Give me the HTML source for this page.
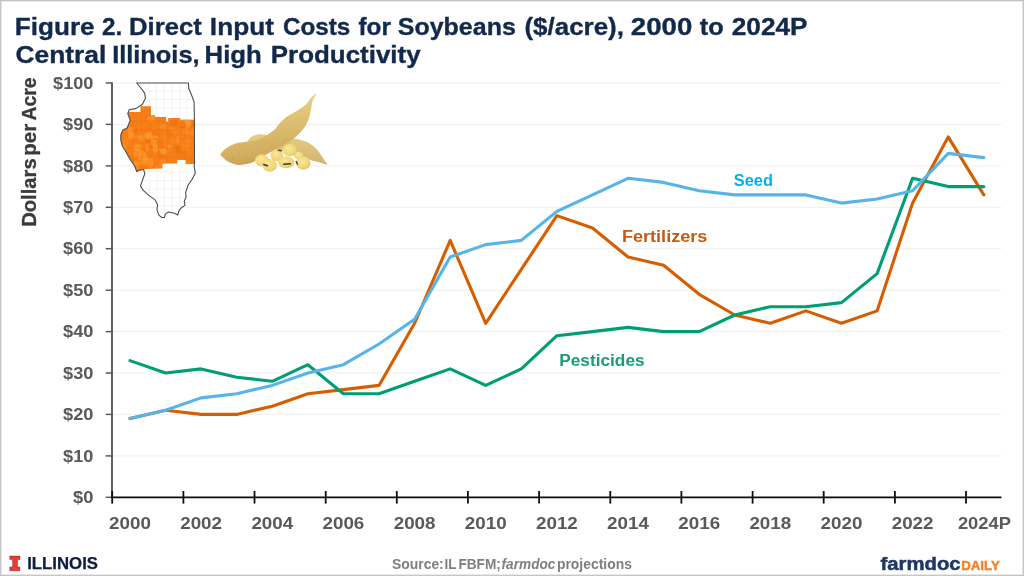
<!DOCTYPE html>
<html><head><meta charset="utf-8"><title>Figure 2</title>
<style>
html,body{margin:0;padding:0;background:#fff;}
body{width:1024px;height:576px;overflow:hidden;font-family:"Liberation Sans",sans-serif;}
svg{display:block;will-change:transform;}
text{font-family:"Liberation Sans",sans-serif;font-weight:bold;}
</style></head><body>
<svg width="1024" height="576" viewBox="0 0 1024 576">
<rect x="0" y="0" width="1024" height="576" fill="#ffffff"/>
<rect x="0.7" y="0.7" width="1022.6" height="574.6" fill="none" stroke="#c6c6c6" stroke-width="1.4"/>

<g stroke="#efefef" stroke-width="1">
<line x1="113" x2="1001.5" y1="455.9" y2="455.9"/>
<line x1="113" x2="1001.5" y1="414.4" y2="414.4"/>
<line x1="113" x2="1001.5" y1="373.0" y2="373.0"/>
<line x1="113" x2="1001.5" y1="331.6" y2="331.6"/>
<line x1="113" x2="1001.5" y1="290.2" y2="290.2"/>
<line x1="113" x2="1001.5" y1="248.7" y2="248.7"/>
<line x1="113" x2="1001.5" y1="207.3" y2="207.3"/>
<line x1="113" x2="1001.5" y1="165.9" y2="165.9"/>
<line x1="113" x2="1001.5" y1="124.4" y2="124.4"/>
<line x1="113" x2="1001.5" y1="83.0" y2="83.0"/>
</g>
<g>
<clipPath id="il"><path d="M136.7,83.0 L188.4,83.0 L188.8,88.5 L191.5,95.0 L194.1,101.9 L194.4,120.0 L194.5,164.0 L194.1,165.8 L195.3,173.1 L192.2,179.2 L188.0,185.3 L185.6,192.6 L186.2,196.8 L184.3,201.1 L185.0,205.4 L181.3,207.8 L178.9,210.8 L177.7,215.1 L174.6,213.3 L168.5,212.0 L165.5,213.9 L164.3,217.5 L161.8,217.5 L158.8,215.1 L157.0,209.6 L157.6,204.7 L155.1,199.9 L149.1,195.6 L143.0,190.1 L140.5,185.9 L142.4,180.4 L144.8,173.7 L143.6,169.5 L139.3,170.1 L136.9,171.7 L134.5,165.8 L129.6,158.5 L125.5,151.0 L122.3,146.0 L120.8,140.0 L120.8,135.0 L122.9,129.9 L127.2,128.0 L130.2,120.1 L127.8,113.5 L129.0,109.8 L135.7,108.6 L142.4,104.3 L145.4,98.2 L144.8,93.4 L141.2,88.5 Z"/></clipPath>
<clipPath id="ilo"><path d="M110.0,112.0 L140.5,112.0 L140.5,106.2 L150.9,106.2 L150.9,115.3 L155.1,115.3 L155.1,117.1 L166.1,117.1 L166.1,121.4 L168.2,121.4 L168.2,118.0 L180.1,118.0 L180.1,119.8 L200.0,119.8 L200.0,164.0 L185.6,164.0 L185.6,160.0 L177.3,160.0 L177.3,163.6 L162.4,163.6 L162.4,168.2 L143.6,169.3 L138.0,174.0 L110.0,174.0 Z"/></clipPath>
<path d="M136.7,83.0 L188.4,83.0 L188.8,88.5 L191.5,95.0 L194.1,101.9 L194.4,120.0 L194.5,164.0 L194.1,165.8 L195.3,173.1 L192.2,179.2 L188.0,185.3 L185.6,192.6 L186.2,196.8 L184.3,201.1 L185.0,205.4 L181.3,207.8 L178.9,210.8 L177.7,215.1 L174.6,213.3 L168.5,212.0 L165.5,213.9 L164.3,217.5 L161.8,217.5 L158.8,215.1 L157.0,209.6 L157.6,204.7 L155.1,199.9 L149.1,195.6 L143.0,190.1 L140.5,185.9 L142.4,180.4 L144.8,173.7 L143.6,169.5 L139.3,170.1 L136.9,171.7 L134.5,165.8 L129.6,158.5 L125.5,151.0 L122.3,146.0 L120.8,140.0 L120.8,135.0 L122.9,129.9 L127.2,128.0 L130.2,120.1 L127.8,113.5 L129.0,109.8 L135.7,108.6 L142.4,104.3 L145.4,98.2 L144.8,93.4 L141.2,88.5 Z" fill="#ffffff"/>
<g clip-path="url(#il)">
<g stroke="#efebeb" stroke-width="0.6" fill="none">
<path d="M149.0,83 V121"/>
<path d="M156.5,83 V121"/>
<path d="M164.0,83 V121"/>
<path d="M172.0,83 V121"/>
<path d="M180.0,83 V121"/>
<path d="M187.0,83 V121"/>
<path d="M136,91.0 H196"/>
<path d="M136,99.5 H196"/>
<path d="M136,108.0 H196"/>
<path d="M149.5,160 V218"/>
<path d="M157.0,160 V218"/>
<path d="M164.5,160 V218"/>
<path d="M172.0,160 V218"/>
<path d="M179.5,160 V218"/>
<path d="M187.0,160 V218"/>
<path d="M136,172.0 H196"/>
<path d="M136,180.5 H196"/>
<path d="M136,189.0 H196"/>
<path d="M136,197.5 H196"/>
<path d="M136,206.0 H196"/>
</g>
<g clip-path="url(#ilo)">
<rect x="110" y="100" width="95" height="80" fill="#f67e16"/>
<ellipse cx="154.5" cy="142.9" rx="4.0" ry="3.3" fill="#ffa23a" opacity="0.6"/>
<ellipse cx="184.3" cy="118.5" rx="3.8" ry="3.3" fill="#ffa23a" opacity="0.6"/>
<ellipse cx="179.7" cy="112.2" rx="2.8" ry="2.4" fill="#ff9c30" opacity="0.6"/>
<ellipse cx="186.9" cy="147.9" rx="3.4" ry="3.2" fill="#fb8a20" opacity="0.6"/>
<ellipse cx="169.4" cy="146.6" rx="2.5" ry="2.2" fill="#ffa23a" opacity="0.6"/>
<ellipse cx="125.7" cy="108.4" rx="4.0" ry="3.6" fill="#ff9c30" opacity="0.6"/>
<ellipse cx="155.3" cy="135.1" rx="3.9" ry="3.4" fill="#f27410" opacity="0.6"/>
<ellipse cx="142.8" cy="106.3" rx="2.4" ry="3.8" fill="#fb8a20" opacity="0.6"/>
<ellipse cx="194.8" cy="171.7" rx="3.9" ry="3.9" fill="#ef6d08" opacity="0.6"/>
<ellipse cx="177.1" cy="139.9" rx="2.3" ry="3.6" fill="#ff9a2e" opacity="0.6"/>
<ellipse cx="150.6" cy="161.9" rx="3.0" ry="4.5" fill="#ff9c30" opacity="0.6"/>
<ellipse cx="171.7" cy="120.1" rx="4.1" ry="2.3" fill="#fb8a20" opacity="0.6"/>
<ellipse cx="193.5" cy="132.2" rx="2.3" ry="3.7" fill="#ff9c30" opacity="0.6"/>
<ellipse cx="170.9" cy="128.2" rx="2.8" ry="2.2" fill="#fb8a20" opacity="0.6"/>
<ellipse cx="177.1" cy="113.8" rx="2.7" ry="2.4" fill="#ff9a2e" opacity="0.6"/>
<ellipse cx="155.4" cy="138.1" rx="3.6" ry="2.7" fill="#ffa23a" opacity="0.6"/>
<ellipse cx="135.1" cy="154.3" rx="2.5" ry="3.7" fill="#ff9a2e" opacity="0.6"/>
<ellipse cx="150.2" cy="171.3" rx="2.2" ry="4.3" fill="#ff9c30" opacity="0.6"/>
<ellipse cx="164.9" cy="171.9" rx="2.2" ry="2.6" fill="#ff9c30" opacity="0.6"/>
<ellipse cx="165.5" cy="144.1" rx="2.3" ry="2.6" fill="#fb8a20" opacity="0.6"/>
<ellipse cx="140.1" cy="157.0" rx="2.9" ry="2.9" fill="#ff9a2e" opacity="0.6"/>
<ellipse cx="126.5" cy="119.8" rx="3.5" ry="2.2" fill="#ef6d08" opacity="0.6"/>
<ellipse cx="148.5" cy="135.9" rx="4.1" ry="3.4" fill="#ffa23a" opacity="0.6"/>
<ellipse cx="131.0" cy="131.5" rx="3.5" ry="2.9" fill="#ff9326" opacity="0.6"/>
<ellipse cx="181.5" cy="122.5" rx="2.6" ry="4.0" fill="#ffa23a" opacity="0.6"/>
<ellipse cx="135.5" cy="168.7" rx="4.0" ry="3.6" fill="#fb8a20" opacity="0.6"/>
<ellipse cx="124.5" cy="113.2" rx="3.2" ry="2.8" fill="#f27410" opacity="0.6"/>
<ellipse cx="173.1" cy="123.0" rx="3.8" ry="3.6" fill="#ef6d08" opacity="0.6"/>
<ellipse cx="159.5" cy="167.3" rx="4.2" ry="2.5" fill="#fb8a20" opacity="0.6"/>
<ellipse cx="162.4" cy="162.3" rx="3.4" ry="2.9" fill="#ff9326" opacity="0.6"/>
<ellipse cx="176.4" cy="110.6" rx="3.0" ry="2.8" fill="#ff9a2e" opacity="0.6"/>
<ellipse cx="134.0" cy="130.3" rx="3.3" ry="2.5" fill="#ef6d08" opacity="0.6"/>
<ellipse cx="131.2" cy="135.7" rx="2.9" ry="4.0" fill="#ffa23a" opacity="0.6"/>
<ellipse cx="164.2" cy="115.3" rx="2.3" ry="2.2" fill="#ef6d08" opacity="0.6"/>
<ellipse cx="172.9" cy="169.5" rx="2.2" ry="3.7" fill="#fb8a20" opacity="0.6"/>
<ellipse cx="126.0" cy="126.5" rx="2.5" ry="2.4" fill="#fb8a20" opacity="0.6"/>
<ellipse cx="161.4" cy="154.6" rx="4.0" ry="4.0" fill="#f27410" opacity="0.6"/>
<ellipse cx="130.6" cy="169.6" rx="2.9" ry="2.4" fill="#fb8a20" opacity="0.6"/>
<ellipse cx="187.7" cy="163.5" rx="3.0" ry="4.1" fill="#ff9c30" opacity="0.6"/>
<ellipse cx="158.0" cy="107.0" rx="3.5" ry="3.1" fill="#ff9a2e" opacity="0.6"/>
<ellipse cx="166.1" cy="111.3" rx="3.5" ry="4.6" fill="#fb8a20" opacity="0.6"/>
<ellipse cx="174.9" cy="131.6" rx="3.7" ry="3.6" fill="#fb8a20" opacity="0.6"/>
<ellipse cx="155.2" cy="141.7" rx="3.2" ry="3.4" fill="#ef6d08" opacity="0.6"/>
<ellipse cx="165.5" cy="137.7" rx="2.7" ry="3.9" fill="#fb8a20" opacity="0.6"/>
<ellipse cx="178.7" cy="149.6" rx="3.2" ry="4.4" fill="#ef6d08" opacity="0.6"/>
<ellipse cx="143.3" cy="150.8" rx="2.6" ry="2.6" fill="#ef6d08" opacity="0.6"/>
<ellipse cx="169.8" cy="135.2" rx="4.0" ry="3.0" fill="#f27410" opacity="0.6"/>
<ellipse cx="139.5" cy="147.9" rx="3.8" ry="4.0" fill="#ff9326" opacity="0.6"/>
<ellipse cx="186.1" cy="131.4" rx="3.4" ry="3.0" fill="#ff9326" opacity="0.6"/>
<ellipse cx="131.0" cy="129.1" rx="4.0" ry="2.3" fill="#ff9a2e" opacity="0.6"/>
<ellipse cx="191.3" cy="124.3" rx="2.5" ry="3.3" fill="#ef6d08" opacity="0.6"/>
<ellipse cx="189.5" cy="160.8" rx="3.0" ry="3.4" fill="#f27410" opacity="0.6"/>
<ellipse cx="144.3" cy="161.4" rx="4.2" ry="3.3" fill="#ff9a2e" opacity="0.6"/>
<ellipse cx="182.3" cy="124.4" rx="3.4" ry="3.8" fill="#ef6d08" opacity="0.6"/>
<ellipse cx="163.2" cy="126.4" rx="3.8" ry="2.2" fill="#ff9326" opacity="0.6"/>
<ellipse cx="151.0" cy="118.5" rx="3.7" ry="2.8" fill="#ff9c30" opacity="0.6"/>
<ellipse cx="131.4" cy="109.1" rx="3.5" ry="3.3" fill="#f27410" opacity="0.6"/>
<ellipse cx="160.6" cy="148.2" rx="2.9" ry="2.4" fill="#ff9326" opacity="0.6"/>
<ellipse cx="135.8" cy="137.4" rx="2.6" ry="2.2" fill="#fb8a20" opacity="0.6"/>
<ellipse cx="160.6" cy="108.4" rx="2.7" ry="4.1" fill="#ffa23a" opacity="0.6"/>
<ellipse cx="172.6" cy="140.3" rx="3.4" ry="4.0" fill="#fb8a20" opacity="0.6"/>
<ellipse cx="183.8" cy="152.2" rx="2.6" ry="3.2" fill="#f27410" opacity="0.6"/>
<ellipse cx="149.7" cy="135.7" rx="2.6" ry="4.3" fill="#ff9a2e" opacity="0.6"/>
<ellipse cx="148.9" cy="143.5" rx="4.0" ry="4.1" fill="#ef6d08" opacity="0.6"/>
<ellipse cx="155.3" cy="149.0" rx="2.6" ry="3.9" fill="#ff9c30" opacity="0.6"/>
<ellipse cx="180.1" cy="167.0" rx="2.4" ry="2.8" fill="#fb8a20" opacity="0.6"/>
<ellipse cx="193.6" cy="170.5" rx="3.3" ry="4.1" fill="#ef6d08" opacity="0.6"/>
<ellipse cx="140.4" cy="153.4" rx="2.2" ry="3.4" fill="#ff9a2e" opacity="0.6"/>
<ellipse cx="153.6" cy="142.3" rx="3.7" ry="3.4" fill="#ff9a2e" opacity="0.6"/>
<ellipse cx="137.2" cy="163.3" rx="3.1" ry="2.3" fill="#ffa23a" opacity="0.6"/>
<ellipse cx="145.8" cy="158.0" rx="2.5" ry="2.6" fill="#ffa23a" opacity="0.6"/>
<ellipse cx="187.6" cy="140.2" rx="3.6" ry="3.3" fill="#fb8a20" opacity="0.6"/>
<ellipse cx="163.8" cy="151.5" rx="3.7" ry="3.3" fill="#ffa23a" opacity="0.6"/>
<ellipse cx="142.5" cy="154.1" rx="3.5" ry="3.5" fill="#ff9c30" opacity="0.6"/>
<ellipse cx="188.1" cy="122.9" rx="3.5" ry="4.5" fill="#ff9c30" opacity="0.6"/>
<ellipse cx="187.6" cy="119.7" rx="3.9" ry="4.5" fill="#ffa23a" opacity="0.6"/>
<ellipse cx="141.2" cy="138.8" rx="3.0" ry="2.5" fill="#ff9a2e" opacity="0.6"/>
<ellipse cx="165.8" cy="107.8" rx="4.1" ry="3.4" fill="#fb8a20" opacity="0.6"/>
<ellipse cx="161.3" cy="171.3" rx="2.4" ry="2.4" fill="#ff9326" opacity="0.6"/>
<ellipse cx="125.9" cy="141.6" rx="3.0" ry="4.5" fill="#fb8a20" opacity="0.6"/>
<ellipse cx="140.9" cy="137.2" rx="2.5" ry="3.2" fill="#ff9c30" opacity="0.6"/>
<ellipse cx="190.2" cy="166.7" rx="3.2" ry="2.5" fill="#fb8a20" opacity="0.6"/>
<ellipse cx="166.7" cy="167.1" rx="2.5" ry="4.1" fill="#ff9a2e" opacity="0.6"/>
<ellipse cx="123.6" cy="116.3" rx="2.2" ry="2.9" fill="#f27410" opacity="0.6"/>
<ellipse cx="147.3" cy="146.9" rx="2.4" ry="4.0" fill="#ff9a2e" opacity="0.6"/>
<ellipse cx="184.0" cy="147.2" rx="3.6" ry="3.9" fill="#fb8a20" opacity="0.6"/>
<ellipse cx="122.7" cy="147.8" rx="3.9" ry="3.7" fill="#ffa23a" opacity="0.6"/>
<ellipse cx="136.1" cy="147.7" rx="3.5" ry="3.5" fill="#ff9c30" opacity="0.6"/>
<ellipse cx="161.2" cy="144.7" rx="2.5" ry="4.4" fill="#f27410" opacity="0.6"/>
<ellipse cx="181.0" cy="165.6" rx="2.8" ry="3.0" fill="#ff9326" opacity="0.6"/>
<g stroke="#e8690a" stroke-width="0.5" fill="none" opacity="0.55">
<path d="M133.0,105 V172"/>
<path d="M141.5,105 V172"/>
<path d="M150.0,105 V172"/>
<path d="M158.5,105 V172"/>
<path d="M167.0,105 V172"/>
<path d="M176.0,105 V172"/>
<path d="M185.0,105 V172"/>
<path d="M118,121.0 H196"/>
<path d="M118,130.0 H196"/>
<path d="M118,139.0 H196"/>
<path d="M118,148.0 H196"/>
<path d="M118,157.0 H196"/>
</g>
</g>
</g>
<path d="M136.7,83.0 L188.4,83.0 L188.8,88.5 L191.5,95.0 L194.1,101.9 L194.4,120.0 L194.5,164.0 L194.1,165.8 L195.3,173.1 L192.2,179.2 L188.0,185.3 L185.6,192.6 L186.2,196.8 L184.3,201.1 L185.0,205.4 L181.3,207.8 L178.9,210.8 L177.7,215.1 L174.6,213.3 L168.5,212.0 L165.5,213.9 L164.3,217.5 L161.8,217.5 L158.8,215.1 L157.0,209.6 L157.6,204.7 L155.1,199.9 L149.1,195.6 L143.0,190.1 L140.5,185.9 L142.4,180.4 L144.8,173.7 L143.6,169.5 L139.3,170.1 L136.9,171.7 L134.5,165.8 L129.6,158.5 L125.5,151.0 L122.3,146.0 L120.8,140.0 L120.8,135.0 L122.9,129.9 L127.2,128.0 L130.2,120.1 L127.8,113.5 L129.0,109.8 L135.7,108.6 L142.4,104.3 L145.4,98.2 L144.8,93.4 L141.2,88.5 Z" fill="none" stroke="#4f4c4c" stroke-width="1.1" stroke-linejoin="round"/>
</g>
<g transform="translate(215,88) scale(0.15625)">
<defs>
<linearGradient id="pod1" x1="0.2" y1="0" x2="0.45" y2="1"><stop offset="0" stop-color="#efd992"/><stop offset="0.45" stop-color="#e0c274"/><stop offset="0.85" stop-color="#d0ac5e"/><stop offset="1" stop-color="#c29c52"/></linearGradient>
<linearGradient id="pod2" x1="0" y1="0" x2="0" y2="1"><stop offset="0" stop-color="#e6cd86"/><stop offset="1" stop-color="#d2b46c"/></linearGradient>
<radialGradient id="bean" cx="0.42" cy="0.38" r="0.7"><stop offset="0" stop-color="#f8e69a"/><stop offset="0.65" stop-color="#f0d777"/><stop offset="1" stop-color="#ddbd5e"/></radialGradient>
</defs>
<path d="M205,345 C225,310 260,292 300,296 C340,300 400,325 490,322 C560,328 615,352 655,395 C680,425 695,462 722,490 C700,490 680,478 655,472 C615,466 575,450 540,430 C490,405 430,400 380,392 C320,380 250,375 205,345 Z" fill="url(#pod2)"/>
<clipPath id="podc"><path d="M33,426 C55,392 95,362 150,350 C185,346 215,345 250,338 C290,328 345,298 385,262 C400,240 425,208 452,188 C500,160 550,135 582,106 C600,86 615,58 645,34 C650,40 630,68 622,92 C614,140 608,180 594,212 C574,258 540,295 500,326 C470,348 440,366 402,386 C365,406 320,430 285,452 C250,476 200,494 145,492 C100,486 60,462 33,426 Z"/></clipPath>
<path d="M33,426 C55,392 95,362 150,350 C185,346 215,345 250,338 C290,328 345,298 385,262 C400,240 425,208 452,188 C500,160 550,135 582,106 C600,86 615,58 645,34 C650,40 630,68 622,92 C614,140 608,180 594,212 C574,258 540,295 500,326 C470,348 440,366 402,386 C365,406 320,430 285,452 C250,476 200,494 145,492 C100,486 60,462 33,426 Z" fill="url(#pod1)"/>
<g clip-path="url(#podc)">
<circle cx="197" cy="393" r="2.7" fill="#a8803c" opacity="0.35"/>
<circle cx="369" cy="259" r="2.1" fill="#a8803c" opacity="0.35"/>
<circle cx="92" cy="472" r="2.5" fill="#a8803c" opacity="0.35"/>
<circle cx="196" cy="421" r="2.9" fill="#a8803c" opacity="0.35"/>
<circle cx="477" cy="188" r="3.3" fill="#a8803c" opacity="0.35"/>
<circle cx="156" cy="422" r="3.7" fill="#a8803c" opacity="0.35"/>
<circle cx="331" cy="288" r="3.3" fill="#a8803c" opacity="0.35"/>
<circle cx="116" cy="453" r="3.2" fill="#a8803c" opacity="0.35"/>
<circle cx="227" cy="346" r="3.7" fill="#a8803c" opacity="0.35"/>
<circle cx="307" cy="300" r="3.8" fill="#a8803c" opacity="0.35"/>
<circle cx="420" cy="247" r="2.8" fill="#a8803c" opacity="0.35"/>
<circle cx="461" cy="195" r="3.9" fill="#a8803c" opacity="0.35"/>
<circle cx="497" cy="154" r="2.3" fill="#a8803c" opacity="0.35"/>
<circle cx="188" cy="424" r="2.9" fill="#a8803c" opacity="0.35"/>
<circle cx="379" cy="234" r="3.0" fill="#a8803c" opacity="0.35"/>
<circle cx="267" cy="342" r="3.2" fill="#a8803c" opacity="0.35"/>
<circle cx="359" cy="282" r="3.4" fill="#a8803c" opacity="0.35"/>
<circle cx="521" cy="186" r="4.0" fill="#a8803c" opacity="0.35"/>
<circle cx="400" cy="214" r="3.7" fill="#a8803c" opacity="0.35"/>
<circle cx="537" cy="179" r="3.1" fill="#a8803c" opacity="0.35"/>
<circle cx="420" cy="205" r="3.7" fill="#a8803c" opacity="0.35"/>
<circle cx="354" cy="247" r="2.1" fill="#a8803c" opacity="0.35"/>
<circle cx="486" cy="214" r="2.2" fill="#a8803c" opacity="0.35"/>
<circle cx="461" cy="193" r="2.3" fill="#a8803c" opacity="0.35"/>
<circle cx="224" cy="392" r="3.7" fill="#a8803c" opacity="0.35"/>
<circle cx="107" cy="450" r="2.1" fill="#a8803c" opacity="0.35"/>
</g>
<ellipse cx="535" cy="432" rx="30" ry="25" fill="url(#bean)"/>
<ellipse cx="478" cy="398" rx="46" ry="40" fill="url(#bean)"/>
<ellipse cx="395" cy="430" rx="40" ry="38" fill="url(#bean)"/>
<ellipse cx="300" cy="462" rx="44" ry="38" fill="url(#bean)"/>
<ellipse cx="565" cy="480" rx="46" ry="42" fill="url(#bean)"/>
<ellipse cx="455" cy="475" rx="52" ry="38" fill="url(#bean)"/>
<ellipse cx="350" cy="495" rx="46" ry="41" fill="url(#bean)"/>
<path d="M440,488 L482,485" stroke="#3e3528" stroke-width="10" stroke-linecap="round"/>
<path d="M312,490 L336,498" stroke="#3e3528" stroke-width="10" stroke-linecap="round"/>
<path d="M520,470 L528,488" stroke="#3e3528" stroke-width="8" stroke-linecap="round"/>
<path d="M405,398 L425,402" stroke="#5a4a30" stroke-width="9" stroke-linecap="round"/>
</g>
<g stroke="#595959" stroke-width="1.5">
<line x1="112" x2="112" y1="82.3" y2="497.3" stroke-width="1.9"/>
<line x1="105.7" x2="112" y1="497.3" y2="497.3"/>
<line x1="105.7" x2="112" y1="455.9" y2="455.9"/>
<line x1="105.7" x2="112" y1="414.4" y2="414.4"/>
<line x1="105.7" x2="112" y1="373.0" y2="373.0"/>
<line x1="105.7" x2="112" y1="331.6" y2="331.6"/>
<line x1="105.7" x2="112" y1="290.2" y2="290.2"/>
<line x1="105.7" x2="112" y1="248.7" y2="248.7"/>
<line x1="105.7" x2="112" y1="207.3" y2="207.3"/>
<line x1="105.7" x2="112" y1="165.9" y2="165.9"/>
<line x1="105.7" x2="112" y1="124.4" y2="124.4"/>
<line x1="105.7" x2="112" y1="83.0" y2="83.0"/>
</g>
<g stroke="#0d0d0d" stroke-width="1.8">
<line x1="111.2" x2="1001.5" y1="497.3" y2="497.3"/>
<line x1="112.2" x2="112.2" y1="491.0" y2="503.6"/>
<line x1="183.4" x2="183.4" y1="491.0" y2="503.6"/>
<line x1="254.5" x2="254.5" y1="491.0" y2="503.6"/>
<line x1="325.7" x2="325.7" y1="491.0" y2="503.6"/>
<line x1="396.8" x2="396.8" y1="491.0" y2="503.6"/>
<line x1="467.9" x2="467.9" y1="491.0" y2="503.6"/>
<line x1="539.1" x2="539.1" y1="491.0" y2="503.6"/>
<line x1="610.3" x2="610.3" y1="491.0" y2="503.6"/>
<line x1="681.4" x2="681.4" y1="491.0" y2="503.6"/>
<line x1="752.6" x2="752.6" y1="491.0" y2="503.6"/>
<line x1="823.7" x2="823.7" y1="491.0" y2="503.6"/>
<line x1="894.9" x2="894.9" y1="491.0" y2="503.6"/>
<line x1="966.0" x2="966.0" y1="491.0" y2="503.6"/>
</g>
<g fill="#595959" font-size="16.2" text-anchor="end">
<text x="93.4" y="502.9" textLength="20.3" lengthAdjust="spacingAndGlyphs">$0</text>
<text x="93.4" y="461.5" textLength="30.3" lengthAdjust="spacingAndGlyphs">$10</text>
<text x="93.4" y="420.0" textLength="30.3" lengthAdjust="spacingAndGlyphs">$20</text>
<text x="93.4" y="378.6" textLength="30.3" lengthAdjust="spacingAndGlyphs">$30</text>
<text x="93.4" y="337.2" textLength="30.3" lengthAdjust="spacingAndGlyphs">$40</text>
<text x="93.4" y="295.8" textLength="30.3" lengthAdjust="spacingAndGlyphs">$50</text>
<text x="93.4" y="254.3" textLength="30.3" lengthAdjust="spacingAndGlyphs">$60</text>
<text x="93.4" y="212.9" textLength="30.3" lengthAdjust="spacingAndGlyphs">$70</text>
<text x="93.4" y="171.5" textLength="30.3" lengthAdjust="spacingAndGlyphs">$80</text>
<text x="93.4" y="130.0" textLength="30.3" lengthAdjust="spacingAndGlyphs">$90</text>
<text x="93.4" y="88.6" textLength="40.3" lengthAdjust="spacingAndGlyphs">$100</text>
</g>
<g fill="#595959" font-size="16.6" text-anchor="middle">
<text x="130.0" y="528.9" textLength="41.8" lengthAdjust="spacingAndGlyphs">2000</text>
<text x="201.1" y="528.9" textLength="41.8" lengthAdjust="spacingAndGlyphs">2002</text>
<text x="272.3" y="528.9" textLength="41.8" lengthAdjust="spacingAndGlyphs">2004</text>
<text x="343.4" y="528.9" textLength="41.8" lengthAdjust="spacingAndGlyphs">2006</text>
<text x="414.6" y="528.9" textLength="41.8" lengthAdjust="spacingAndGlyphs">2008</text>
<text x="485.7" y="528.9" textLength="41.8" lengthAdjust="spacingAndGlyphs">2010</text>
<text x="556.9" y="528.9" textLength="41.8" lengthAdjust="spacingAndGlyphs">2012</text>
<text x="628.0" y="528.9" textLength="41.8" lengthAdjust="spacingAndGlyphs">2014</text>
<text x="699.2" y="528.9" textLength="41.8" lengthAdjust="spacingAndGlyphs">2016</text>
<text x="770.3" y="528.9" textLength="41.8" lengthAdjust="spacingAndGlyphs">2018</text>
<text x="841.5" y="528.9" textLength="41.8" lengthAdjust="spacingAndGlyphs">2020</text>
<text x="912.6" y="528.9" textLength="41.8" lengthAdjust="spacingAndGlyphs">2022</text>
<text x="984.4" y="528.9" textLength="53.0" lengthAdjust="spacingAndGlyphs">2024P</text>
</g>
<polyline fill="none" stroke="#d55e00" stroke-width="3.1" stroke-linecap="round" stroke-linejoin="round" points="130.0,418.6 165.6,410.3 201.1,414.4 236.7,414.4 272.3,406.2 307.9,393.7 343.4,389.6 379.0,385.4 414.6,323.3 450.2,240.4 485.7,323.3 521.3,269.4 556.9,215.6 592.5,228.0 628.0,257.0 663.6,265.3 699.2,294.3 734.8,315.0 770.3,323.3 805.9,310.9 841.5,323.3 877.1,310.9 912.6,203.1 948.2,136.9 983.8,194.9"/>
<polyline fill="none" stroke="#009e73" stroke-width="3.1" stroke-linecap="round" stroke-linejoin="round" points="130.0,360.6 165.6,373.0 201.1,368.9 236.7,377.2 272.3,381.3 307.9,364.7 343.4,393.7 379.0,393.7 414.6,381.3 450.2,368.9 485.7,385.4 521.3,368.9 556.9,335.7 592.5,331.6 628.0,327.4 663.6,331.6 699.2,331.6 734.8,315.0 770.3,306.7 805.9,306.7 841.5,302.6 877.1,273.6 912.6,178.3 948.2,186.6 983.8,186.6"/>
<polyline fill="none" stroke="#56b4e9" stroke-width="3.1" stroke-linecap="round" stroke-linejoin="round" points="130.0,418.6 165.6,410.3 201.1,397.9 236.7,393.7 272.3,385.4 307.9,373.0 343.4,364.7 379.0,344.0 414.6,319.2 450.2,257.0 485.7,244.6 521.3,240.4 556.9,211.4 592.5,194.9 628.0,178.3 663.6,182.4 699.2,190.7 734.8,194.9 770.3,194.9 805.9,194.9 841.5,203.1 877.1,199.0 912.6,190.7 948.2,153.4 983.8,157.6"/>
<text x="733.8" y="186.4" font-size="17.2" fill="#00b0f0" textLength="39.1" lengthAdjust="spacingAndGlyphs">Seed</text>
<text x="621.9" y="241.6" font-size="17.2" fill="#c55a11" textLength="85.5" lengthAdjust="spacingAndGlyphs">Fertilizers</text>
<text x="559.2" y="366.3" font-size="17.2" fill="#169e77" textLength="85.4" lengthAdjust="spacingAndGlyphs">Pesticides</text>
<text transform="translate(35.5,226.78) rotate(-90)" font-size="20.2" fill="#3a3a3a" stroke="#3a3a3a" stroke-width="0.3" textLength="68.44" lengthAdjust="spacingAndGlyphs">Dollars</text>
<text transform="translate(35.5,155.76) rotate(-90)" font-size="20.2" fill="#3a3a3a" stroke="#3a3a3a" stroke-width="0.3" textLength="31.92" lengthAdjust="spacingAndGlyphs">per</text>
<text transform="translate(35.5,120.61) rotate(-90)" font-size="20.2" fill="#3a3a3a" stroke="#3a3a3a" stroke-width="0.3" textLength="43.20" lengthAdjust="spacingAndGlyphs">Acre</text>
<g font-size="24" fill="#13294b" stroke="#13294b" stroke-width="0.35">
<text x="14.88" y="34.8" textLength="79.70" lengthAdjust="spacingAndGlyphs">Figure</text>
<text x="102.10" y="34.8" textLength="20.25" lengthAdjust="spacingAndGlyphs">2.</text>
<text x="129.13" y="34.8" textLength="72.53" lengthAdjust="spacingAndGlyphs">Direct</text>
<text x="209.86" y="34.8" textLength="64.10" lengthAdjust="spacingAndGlyphs">Input</text>
<text x="283.00" y="34.8" textLength="67.32" lengthAdjust="spacingAndGlyphs">Costs</text>
<text x="358.45" y="34.8" textLength="32.43" lengthAdjust="spacingAndGlyphs">for</text>
<text x="397.81" y="34.8" textLength="117.99" lengthAdjust="spacingAndGlyphs">Soybeans</text>
<text x="524.49" y="34.8" textLength="99.41" lengthAdjust="spacingAndGlyphs">($/acre),</text>
<text x="630.87" y="34.8" textLength="61.45" lengthAdjust="spacingAndGlyphs">2000</text>
<text x="699.89" y="34.8" textLength="23.91" lengthAdjust="spacingAndGlyphs">to</text>
<text x="731.75" y="34.8" textLength="75.79" lengthAdjust="spacingAndGlyphs">2024P</text>
<text x="15.46" y="62.5" textLength="90.81" lengthAdjust="spacingAndGlyphs">Central</text>
<text x="112.15" y="62.5" textLength="87.43" lengthAdjust="spacingAndGlyphs">Illinois,</text>
<text x="204.59" y="62.5" textLength="57.16" lengthAdjust="spacingAndGlyphs">High</text>
<text x="270.81" y="62.5" textLength="149.76" lengthAdjust="spacingAndGlyphs">Productivity</text>
</g>
<path d="M9.75,556.1 H19.95 V559.6 H17.5 V567 H19.95 V570.75 H9.75 V567 H12.6 V559.6 H9.75 Z" fill="#ee3b2c" stroke="#4a2038" stroke-width="0.5" stroke-opacity="0.8"/>
<text x="27.2" y="568.7" font-size="15.7" fill="#0f1e40" stroke="#0f1e40" stroke-width="0.25" textLength="70.8" lengthAdjust="spacingAndGlyphs">ILLINOIS</text>
<g font-size="14.6" fill="#7f7f7f">
<text x="391.95" y="568.7"  textLength="51.83" lengthAdjust="spacingAndGlyphs">Source:</text>
<text x="444.44" y="568.7"  textLength="12.00" lengthAdjust="spacingAndGlyphs">IL</text>
<text x="458.45" y="568.7"  textLength="42.43" lengthAdjust="spacingAndGlyphs">FBFM;</text>
<text x="501.54" y="568.7" font-style="italic" textLength="53.89" lengthAdjust="spacingAndGlyphs">farmdoc</text>
<text x="556.89" y="568.7"  textLength="75.02" lengthAdjust="spacingAndGlyphs">projections</text>
</g>
<text x="880.6" y="569.7" font-size="18.9" fill="#1e3764" stroke="#1e3764" stroke-width="0.5" textLength="80" lengthAdjust="spacingAndGlyphs">farmdoc</text>
<text x="961.2" y="569.7" font-size="12.1" fill="#f58025" stroke="#f58025" stroke-width="0.4" textLength="38.6" lengthAdjust="spacingAndGlyphs">DAILY</text>
</svg></body></html>
